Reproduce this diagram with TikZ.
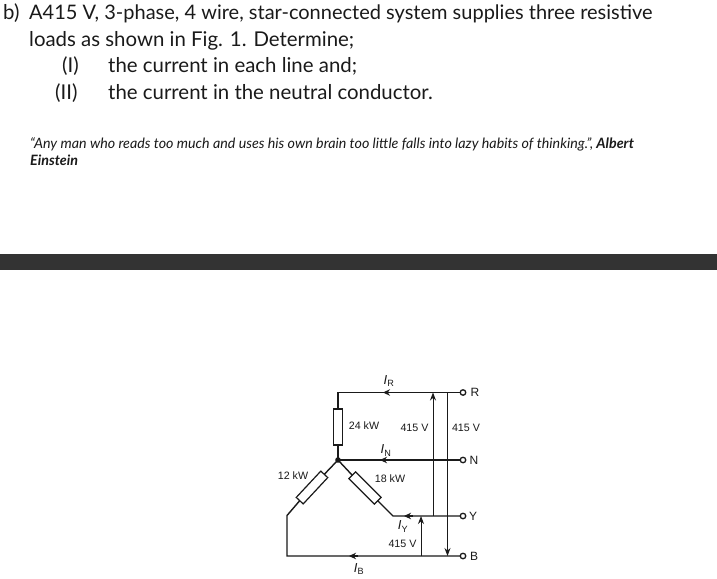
\documentclass[tikz,border=0pt]{standalone}
\usepackage{fontspec}
\usetikzlibrary{arrows.meta}
\setmainfont{Lato}
\newfontfamily\diagfont{Liberation Sans}
\definecolor{barcol}{HTML}{333333}
\definecolor{inkcol}{HTML}{1A1A1A}
\tikzset{
  x=1pt,y=-1pt,
  wire/.style={draw=inkcol,line width=1.4pt},
  tipwire/.style={draw=inkcol,line width=1pt,-{Stealth[length=8pt,width=6pt]}},
  headtip/.style={draw=inkcol,line width=1.4pt,-{Stealth[length=7pt,width=6.5pt]}},
  load/.style={draw=inkcol,line width=1.2pt,fill=white,minimum width=36pt,minimum height=9.5pt,inner sep=0pt,outer sep=0pt},
  term/.style={draw=inkcol,line width=1.3pt,fill=white,circle,minimum size=5.5pt,inner sep=0pt,outer sep=0pt},
  lab/.style={font=\diagfont\fontsize{10.7}{12}\selectfont,text=inkcol,inner sep=0pt},
  termlab/.style={font=\diagfont\fontsize{12}{12}\selectfont,text=inkcol,inner sep=0pt},
  symb/.style={font=\diagfont\fontsize{13}{13}\selectfont,text=inkcol,inner sep=0pt},
  big/.style={anchor=base west,inner sep=0pt,font=\fontsize{20.4}{24}\selectfont,text=inkcol},
  bigtop/.style={anchor=base west,inner sep=0pt,font=\fontsize{20}{24}\selectfont,text=inkcol},
  quo/.style={anchor=base west,inner sep=0pt,font=\itshape\fontsize{14.25}{16}\selectfont,text=inkcol},
}
\newcommand{\sym}[2]{\textit{#1}\textsubscript{#2}}
\begin{document}
\begin{tikzpicture}
\useasboundingbox (0,0) rectangle (717,578);
\fill[white] (0,0) rectangle (717,578);
\node[big] (t1) at (3,20) {b)};
\node[bigtop] (t2) at (29,20) {A415 V, 3-phase, 4 wire, star-connected system supplies three resistive};
\node[big] (t3) at (29,46.5) {loads as shown in Fig. 1. Determine;};
\node[big] (t4) at (62,73) {(I)};
\node[big] (t5) at (108,73) {the current in each line and;};
\node[big] (t6) at (55,99) {(II)};
\node[big] (t7) at (108,99) {the current in the neutral conductor.};
\node[quo] (q1) at (30,148) {“Any man who reads too much and uses his own brain too little falls into lazy habits of thinking.”, \textbf{Albert}};
\node[quo] (q2) at (30,165) {\textbf{Einstein}};
\fill[barcol] (0,254) rectangle (717,270);

% junctions
\coordinate (star) at (338,460);
\coordinate (rc) at (338,392.5);
\coordinate (lc) at (287,515.5);
\coordinate (bl) at (287,556);
\coordinate (yl) at (393,516);
\coordinate (xa) at (433,392.5);
\coordinate (xb) at (447.5,392.5);
\coordinate (xay) at (433,516);
\coordinate (xbb) at (447.5,556);
\coordinate (xc) at (421,516);
\coordinate (xcb) at (421,556);
% terminals
\node[term] (R) at (463,392.5) {};
\node[term] (N) at (463,460) {};
\node[term] (Y) at (463,516) {};
\node[term] (B) at (463,556) {};
% loads
\node[load,rotate=90] (L24) at (338,427) {};
\node[load,rotate=47] (L12) at (312,487.5) {};
\node[load,rotate=-45] (L18) at (365,488) {};
% wires
\draw[wire] (R) -- (rc) -- (L24.east);
\draw[wire] (L24.west) -- (star);
\draw[wire] (N) -- (star);
\draw[wire] (star) -- (L12.east);
\draw[wire] (L12.west) -- (lc) -- (bl) -- (B);
\draw[wire] (star) -- (L18.west);
\draw[wire] (L18.east) -- (yl) -- (Y);
\fill[inkcol] (star) circle (2.8pt);
% voltage arrows
\draw[tipwire] (xay) -- (xa);
\draw[tipwire] (xb) -- (xbb);
\draw[tipwire] (xcb) -- (xc);
% current arrows
\coordinate (ra) at (392,392.5); \coordinate (rb) at (383,392.5);
\coordinate (na) at (389,460); \coordinate (nb) at (380,460);
\coordinate (ya) at (413,516); \coordinate (yb) at (404,516);
\coordinate (ba) at (358,556); \coordinate (bb) at (349,556);
\draw[headtip] (ra) -- (rb);
\draw[headtip] (na) -- (nb);
\draw[headtip] (ya) -- (yb);
\draw[headtip] (ba) -- (bb);
% labels
\node[symb] (iR) at (389,381) {\sym{I}{R}};
\node[symb] (iN) at (386,450.5) {\sym{I}{N}};
\node[symb] (iY) at (403,526.5) {\sym{I}{Y}};
\node[symb] (iB) at (359,569) {\sym{I}{B}};
\node[termlab] (lR) at (475,392.5) {R};
\node[termlab] (lN) at (474,460) {N};
\node[termlab] (lY) at (473,516) {Y};
\node[termlab] (lB) at (474,556) {B};
\node[lab] (k24) at (364,425.5) {24 kW};
\node[lab] (v1) at (414.5,428) {415 V};
\node[lab] (v2) at (466,428) {415 V};
\node[lab] (k12) at (293,475.5) {12 kW};
\node[lab] (k18) at (390,479) {18 kW};
\node[lab] (v3) at (402.5,543.5) {415 V};
\end{tikzpicture}
\end{document}
